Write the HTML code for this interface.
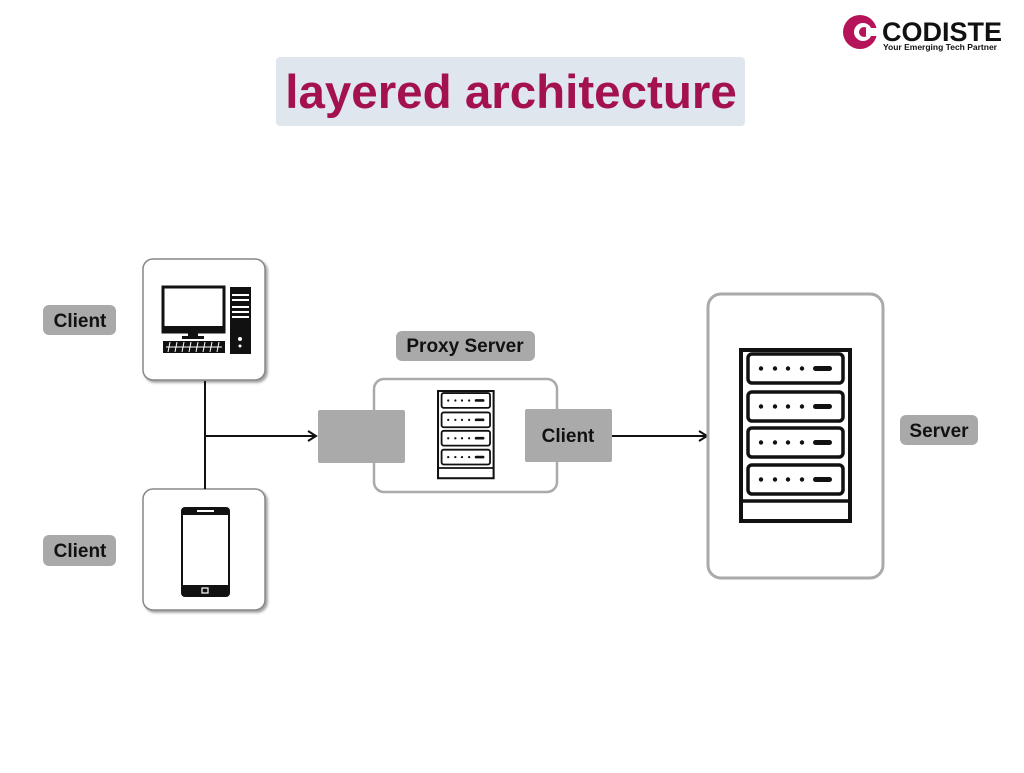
<!DOCTYPE html>
<html><head><meta charset="utf-8"><style>
html,body{margin:0;padding:0;background:#fff;}
body{width:1024px;height:768px;overflow:hidden;}
text{font-family:"Liberation Sans",sans-serif;font-weight:bold;}
</style></head><body>
<svg width="1024" height="768" viewBox="0 0 1024 768" xmlns="http://www.w3.org/2000/svg">
<defs>
<g id="srv">
<rect x="2" y="2" width="109" height="171" fill="#fff" stroke="#111" stroke-width="4"/>
<g fill="none" stroke="#111" stroke-width="3.5">
<rect x="9" y="6" width="95" height="29" rx="4"/>
<rect x="9" y="44" width="95" height="29" rx="4"/>
<rect x="9" y="80" width="95" height="29" rx="4"/>
<rect x="9" y="117" width="95" height="29" rx="4"/>
<line x1="2" y1="153" x2="111" y2="153"/>
</g>
<g fill="#111">
<circle cx="22" cy="20.5" r="2.2"/><circle cx="36" cy="20.5" r="2.2"/><circle cx="49" cy="20.5" r="2.2"/><circle cx="63" cy="20.5" r="2.2"/><rect x="74" y="18" width="19" height="5" rx="2.5"/>
<circle cx="22" cy="58.5" r="2.2"/><circle cx="36" cy="58.5" r="2.2"/><circle cx="49" cy="58.5" r="2.2"/><circle cx="63" cy="58.5" r="2.2"/><rect x="74" y="56" width="19" height="5" rx="2.5"/>
<circle cx="22" cy="94.5" r="2.2"/><circle cx="36" cy="94.5" r="2.2"/><circle cx="49" cy="94.5" r="2.2"/><circle cx="63" cy="94.5" r="2.2"/><rect x="74" y="92" width="19" height="5" rx="2.5"/>
<circle cx="22" cy="131.5" r="2.2"/><circle cx="36" cy="131.5" r="2.2"/><circle cx="49" cy="131.5" r="2.2"/><circle cx="63" cy="131.5" r="2.2"/><rect x="74" y="129" width="19" height="5" rx="2.5"/>
</g>
</g>
<filter id="sh" x="-10%" y="-10%" width="130%" height="130%"><feDropShadow dx="2" dy="2" stdDeviation="1.2" flood-color="#777" flood-opacity="0.7"/></filter>
</defs>

<!-- logo -->
<circle cx="860" cy="32" r="17" fill="#b5145a"/>
<circle cx="863" cy="32" r="9" fill="#fff"/>
<circle cx="864" cy="32" r="5" fill="#b5145a"/>
<rect x="866" y="28" width="12" height="8" fill="#fff"/>
<text x="882" y="41" font-size="27" fill="#111">CODISTE</text>
<text x="883" y="50" font-size="8.5" fill="#111">Your Emerging Tech Partner</text>

<!-- title -->
<rect x="276" y="57" width="469" height="69" rx="4" fill="#dfe6ed"/>
<text x="511" y="108" font-size="47.5" fill="#a3124f" text-anchor="middle">layered architecture</text>

<!-- desktop box -->
<rect x="143" y="259" width="122" height="121" rx="10" fill="#fff" stroke="#888" stroke-width="1.5" filter="url(#sh)"/>
<rect x="163" y="287" width="61" height="45" fill="#fff" stroke="#111" stroke-width="3"/>
<rect x="163" y="326" width="61" height="6" fill="#111"/>
<rect x="188" y="332" width="10" height="5" fill="#111"/>
<rect x="182" y="336" width="22" height="3" fill="#111"/>
<rect x="163" y="341" width="62" height="12" fill="#111"/>
<g stroke="#fff" stroke-width="1">
<line x1="166" y1="347" x2="222" y2="347"/>
<line x1="170" y1="342" x2="168" y2="352"/><line x1="177" y1="342" x2="175" y2="352"/><line x1="184" y1="342" x2="182" y2="352"/><line x1="191" y1="342" x2="189" y2="352"/><line x1="198" y1="342" x2="196" y2="352"/><line x1="205" y1="342" x2="203" y2="352"/><line x1="212" y1="342" x2="210" y2="352"/><line x1="219" y1="342" x2="217" y2="352"/>
</g>
<rect x="230" y="287" width="21" height="67" fill="#111"/>
<rect x="232" y="294" width="17" height="2" fill="#fff"/><rect x="232" y="299" width="17" height="2" fill="#fff"/>
<rect x="232" y="306" width="17" height="2" fill="#fff"/><rect x="232" y="311" width="17" height="2" fill="#fff"/><rect x="232" y="316" width="17" height="2" fill="#fff"/>
<circle cx="240" cy="339" r="2" fill="#fff"/><circle cx="240" cy="346" r="1.5" fill="#fff"/>

<!-- phone box -->
<rect x="143" y="489" width="122" height="121" rx="10" fill="#fff" stroke="#888" stroke-width="1.5" filter="url(#sh)"/>
<rect x="182" y="508" width="47" height="88" rx="3" fill="#fff" stroke="#111" stroke-width="2"/>
<rect x="182" y="508" width="47" height="7" fill="#111"/>
<rect x="182" y="585" width="47" height="11" rx="2" fill="#111"/>
<rect x="197" y="510" width="17" height="2" fill="#fff"/>
<rect x="202" y="588" width="6" height="5" fill="none" stroke="#fff" stroke-width="1.2"/>

<!-- labels -->
<rect x="43" y="305" width="73" height="30" rx="6" fill="#a9a9a9"/>
<text x="80" y="327" font-size="19" fill="#111" text-anchor="middle">Client</text>
<rect x="43" y="535" width="73" height="31" rx="6" fill="#a9a9a9"/>
<text x="80" y="557" font-size="19" fill="#111" text-anchor="middle">Client</text>
<rect x="396" y="331" width="139" height="30" rx="6" fill="#a9a9a9"/>
<text x="465" y="352" font-size="19" fill="#111" text-anchor="middle">Proxy Server</text>
<rect x="900" y="415" width="78" height="30" rx="6" fill="#a9a9a9"/>
<text x="939" y="437" font-size="19" fill="#111" text-anchor="middle">Server</text>

<!-- connectors -->
<g stroke="#111" stroke-width="2" fill="none">
<line x1="205" y1="381" x2="205" y2="489"/>
<line x1="205" y1="436" x2="314" y2="436"/>
<line x1="612" y1="436" x2="705" y2="436"/>
</g>
<path d="M308 431 L316 436 L308 441" fill="none" stroke="#111" stroke-width="2"/>
<path d="M699 431 L707 436 L699 441" fill="none" stroke="#111" stroke-width="2"/>

<!-- proxy box -->
<rect x="374" y="379" width="183" height="113" rx="10" fill="#fff" stroke="#aaa" stroke-width="2.5"/>
<rect x="318" y="410" width="87" height="53" rx="2" fill="#aaa"/>
<rect x="525" y="409" width="87" height="53" rx="2" fill="#aaa"/>
<text x="568" y="442" font-size="19" fill="#111" text-anchor="middle">Client</text>
<g transform="translate(437,390) scale(0.51)"><use href="#srv"/></g>

<!-- server box -->
<rect x="708" y="294" width="175" height="284" rx="13" fill="#fff" stroke="#aaa" stroke-width="3"/>
<g transform="translate(739,348)"><use href="#srv"/></g>
</svg>
</body></html>
